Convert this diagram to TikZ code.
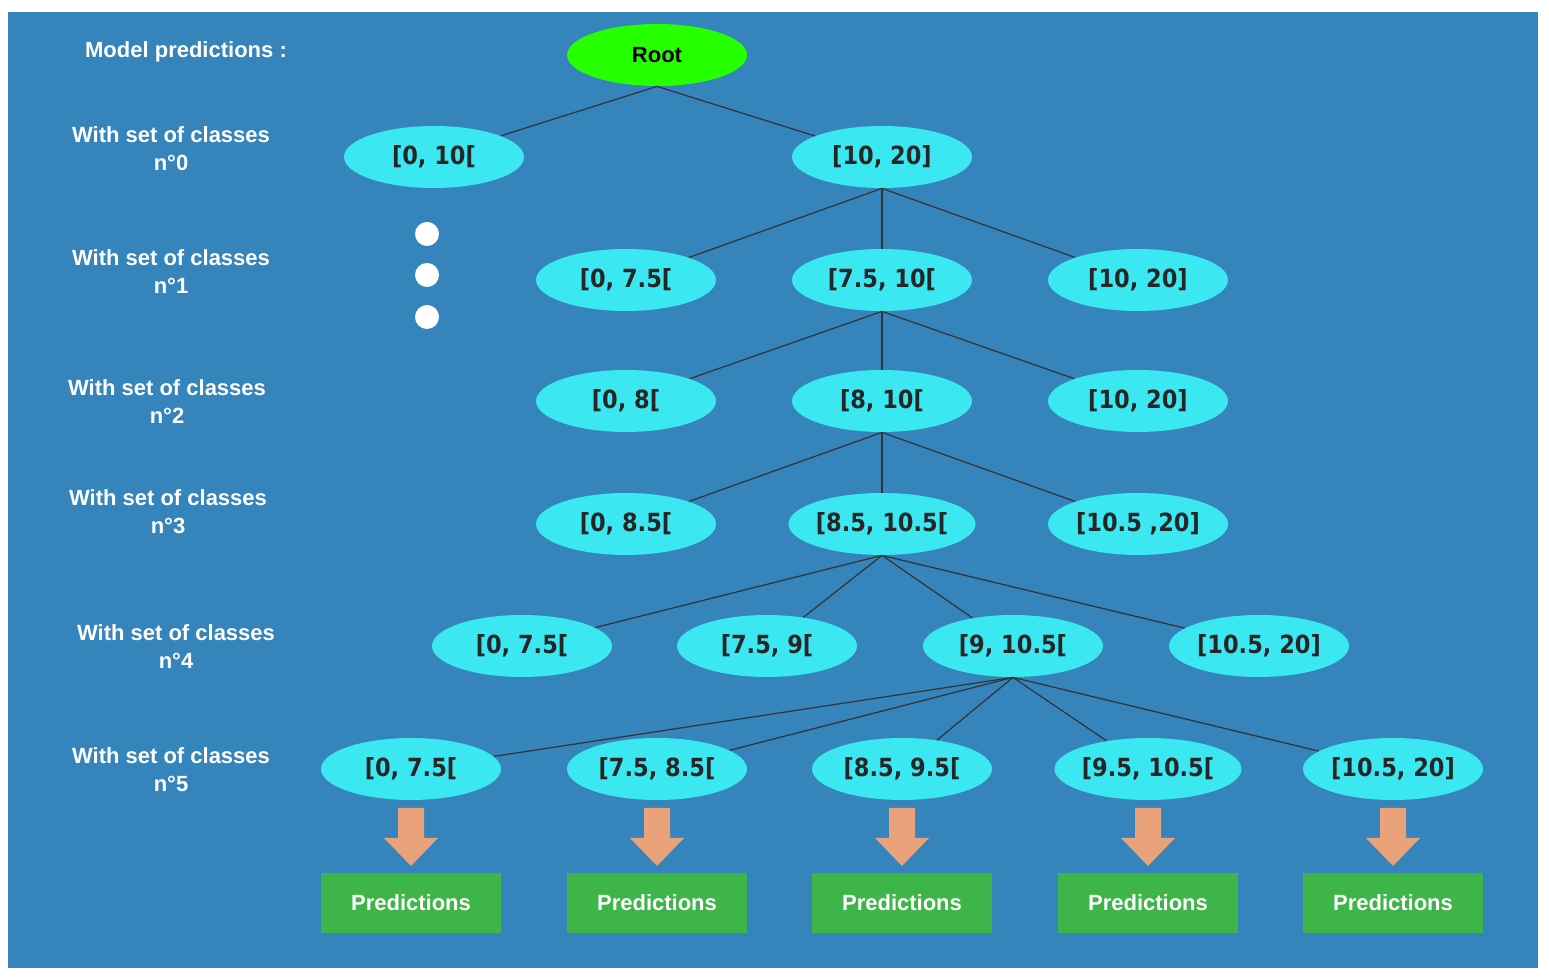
\documentclass[tikz,border=0pt]{standalone}
\usepackage{fontspec}
\setmainfont{Liberation Sans}
\newfontfamily\ivfont{DejaVu Sans Condensed}
\usetikzlibrary{shapes.geometric}
\definecolor{bg}{HTML}{3584BB}
\definecolor{cy}{HTML}{3BE8F2}
\definecolor{gr}{HTML}{3DB548}
\definecolor{og}{HTML}{E9A27A}
\begin{document}
\begin{tikzpicture}[x=0.5pt,y=-0.5pt,
 iv/.style={ellipse,fill=cy,minimum width=90pt,minimum height=31pt,inner sep=0pt,font=\ivfont\bfseries\fontsize{12.5}{15}\selectfont,text=black!85},
 lbl/.style={align=center,text=white,font=\bfseries\fontsize{11}{14}\selectfont},
 pred/.style={fill=gr,minimum width=90pt,minimum height=30pt,inner sep=0pt,text=white,font=\bfseries\fontsize{11}{13}\selectfont},
 ed/.style={draw=black!80,line width=0.6pt}]
\useasboundingbox (0,0) rectangle (1549,977);
\fill[white] (0,0) rectangle (1549,977);
\fill[bg] (8,12) rectangle (1538,968);
\node[ellipse,fill=green!80!lime,minimum width=90pt,minimum height=31pt,font=\bfseries\fontsize{11}{13}\selectfont] (root) at (657,55) {Root};
\node[lbl] (m) at (186,52) {Model predictions :};
\node[lbl] (l0) at (171,149) {With set of classes\\n°0};
\node[lbl] (l1) at (171,272) {With set of classes\\n°1};
\node[lbl] (l2) at (167,402) {With set of classes\\n°2};
\node[lbl] (l3) at (168,512) {With set of classes\\n°3};
\node[lbl] (l4) at (176,647) {With set of classes\\n°4};
\node[lbl] (l5) at (171,770) {With set of classes\\n°5};
\node[iv] (a0) at (434,157) {[0, 10[};
\node[iv] (a1) at (882,157) {[10, 20]};
\node[iv] (b0) at (626,280) {[0, 7.5[};
\node[iv] (b1) at (882,280) {[7.5, 10[};
\node[iv] (b2) at (1138,280) {[10, 20]};
\node[iv] (c0) at (626,401) {[0, 8[};
\node[iv] (c1) at (882,401) {[8, 10[};
\node[iv] (c2) at (1138,401) {[10, 20]};
\node[iv] (d0) at (626,524) {[0, 8.5[};
\node[iv] (d1) at (882,524) {[8.5, 10.5[};
\node[iv] (d2) at (1138,524) {[10.5 ,20]};
\node[iv] (e0) at (522,646) {[0, 7.5[};
\node[iv] (e1) at (767,646) {[7.5, 9[};
\node[iv] (e2) at (1013,646) {[9, 10.5[};
\node[iv] (e3) at (1259,646) {[10.5, 20]};
\node[iv] (f0) at (411,769) {[0, 7.5[};
\node[iv] (f1) at (657,769) {[7.5, 8.5[};
\node[iv] (f2) at (902,769) {[8.5, 9.5[};
\node[iv] (f3) at (1148,769) {[9.5, 10.5[};
\node[iv] (f4) at (1393,769) {[10.5, 20]};
\foreach \c in {a0,a1} \draw[ed] (root.south) -- (\c);
\foreach \c in {b0,b1,b2} \draw[ed] (a1.south) -- (\c);
\foreach \c in {c0,c1,c2} \draw[ed] (b1.south) -- (\c);
\foreach \c in {d0,d1,d2} \draw[ed] (c1.south) -- (\c);
\foreach \c in {e0,e1,e2,e3} \draw[ed] (d1.south) -- (\c);
\foreach \c in {f0,f1,f2,f3,f4} \draw[ed] (e2.south) -- (\c);
\foreach \y/\n in {234/1,275/2,317/3} \fill[white] (427,\y) circle (12) coordinate (dot\n);
\foreach \x/\n in {411/0,657/1,902/2,1148/3,1393/4}{
 \fill[og] (\x-13,808) -- (\x+13,808) -- (\x+13,838) -- (\x+27,838) -- (\x,866) -- (\x-27,838) -- (\x-13,838) -- cycle;
 \node[pred] (p\n) at (\x,903) {Predictions};
}
\end{tikzpicture}
\end{document}
